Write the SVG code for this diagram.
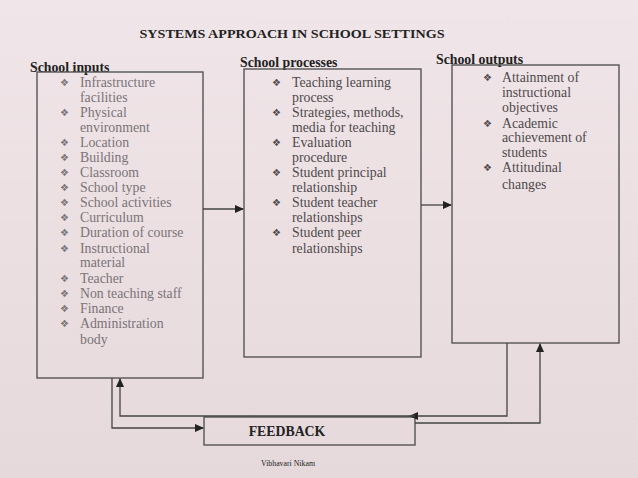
<svg xmlns="http://www.w3.org/2000/svg" width="638" height="478" viewBox="0 0 638 478">
<defs>
<marker id="ah" markerWidth="9" markerHeight="8" refX="8" refY="4" orient="auto" markerUnits="userSpaceOnUse">
<path d="M0,0 L9,4 L0,8 Z" fill="#222"/>
</marker>
<linearGradient id="bg" x1="0" y1="0" x2="0" y2="1">
<stop offset="0" stop-color="#f0e5e8"/>
<stop offset="1" stop-color="#e6d9dc"/>
</linearGradient>
</defs>
<style>
.box{fill:none;stroke:#555;stroke-width:1.4}
.head{font-family:'Liberation Serif','DejaVu Serif',serif;font-weight:bold;font-size:13.8px;fill:#222}
.b{font-family:'DejaVu Sans',sans-serif;font-size:10px}
.conn{fill:none;stroke:#444;stroke-width:1.3}
</style>
<rect width="638" height="478" fill="url(#bg)"/>
<text x="292" y="38" text-anchor="middle" class="head" style="font-size:12.5px" textLength="305" lengthAdjust="spacingAndGlyphs">SYSTEMS APPROACH IN SCHOOL SETTINGS</text>

<g id="inputs">
<text x="30" y="72" class="head">School inputs</text>
<rect x="37" y="72" width="166" height="306" class="box"/>
<g fill="#7a7478" font-family="Liberation Serif, DejaVu Serif, serif" font-size="13.8">
<text x="60" y="86" class="b">❖</text><text x="80" y="87">Infrastructure</text>
<text x="80" y="102">facilities</text>
<text x="60" y="116" class="b">❖</text><text x="80" y="117">Physical</text>
<text x="80" y="132">environment</text>
<text x="60" y="146" class="b">❖</text><text x="80" y="147">Location</text>
<text x="60" y="161" class="b">❖</text><text x="80" y="162">Building</text>
<text x="60" y="176" class="b">❖</text><text x="80" y="177">Classroom</text>
<text x="60" y="191" class="b">❖</text><text x="80" y="192">School type</text>
<text x="60" y="206" class="b">❖</text><text x="80" y="207">School activities</text>
<text x="60" y="221" class="b">❖</text><text x="80" y="222">Curriculum</text>
<text x="60" y="236" class="b">❖</text><text x="80" y="237">Duration of course</text>
<text x="60" y="252" class="b">❖</text><text x="80" y="253">Instructional</text>
<text x="80" y="267">material</text>
<text x="60" y="282" class="b">❖</text><text x="80" y="283">Teacher</text>
<text x="60" y="297" class="b">❖</text><text x="80" y="298">Non teaching staff</text>
<text x="60" y="312" class="b">❖</text><text x="80" y="313">Finance</text>
<text x="60" y="327" class="b">❖</text><text x="80" y="328">Administration</text>
<text x="80" y="344">body</text>
</g>
</g>

<g id="processes">
<text x="240" y="67" class="head">School processes</text>
<rect x="244" y="69" width="177" height="288" class="box"/>
<g fill="#4e4a4c" font-family="Liberation Serif, DejaVu Serif, serif" font-size="13.8">
<text x="272" y="86" class="b">❖</text><text x="292" y="87">Teaching learning</text>
<text x="292" y="102">process</text>
<text x="272" y="116" class="b">❖</text><text x="292" y="117">Strategies, methods,</text>
<text x="292" y="132">media for teaching</text>
<text x="272" y="146" class="b">❖</text><text x="292" y="147">Evaluation</text>
<text x="292" y="162">procedure</text>
<text x="272" y="176" class="b">❖</text><text x="292" y="177">Student principal</text>
<text x="292" y="192">relationship</text>
<text x="272" y="206" class="b">❖</text><text x="292" y="207">Student teacher</text>
<text x="292" y="222">relationships</text>
<text x="272" y="236" class="b">❖</text><text x="292" y="237">Student peer</text>
<text x="292" y="253">relationships</text>
</g>
</g>

<g id="outputs">
<text x="436" y="64" class="head">School outputs</text>
<rect x="452" y="65" width="167" height="278" class="box"/>
<g fill="#4e4a4c" font-family="Liberation Serif, DejaVu Serif, serif" font-size="13.8">
<text x="483" y="81" class="b">❖</text><text x="502" y="82">Attainment of</text>
<text x="502" y="97">instructional</text>
<text x="502" y="112">objectives</text>
<text x="483" y="127" class="b">❖</text><text x="502" y="128">Academic</text>
<text x="502" y="142">achievement of</text>
<text x="502" y="157">students</text>
<text x="483" y="171" class="b">❖</text><text x="502" y="172">Attitudinal</text>
<text x="502" y="189">changes</text>
</g>
</g>

<g id="feedback">
<rect x="204" y="417" width="211" height="28" class="box"/>
<text x="287" y="436" text-anchor="middle" class="head">FEEDBACK</text>
</g>

<g id="connectors">
<line x1="203" y1="209" x2="243" y2="209" class="conn" marker-end="url(#ah)"/>
<line x1="421" y1="205" x2="451" y2="205" class="conn" marker-end="url(#ah)"/>
<polyline points="507,343 507,416 410,416" class="conn" marker-end="url(#ah)"/>
<polyline points="415,416 120,416 120,379" class="conn" marker-end="url(#ah)"/>
<polyline points="112,378 112,428 203,428" class="conn" marker-end="url(#ah)"/>
<polyline points="415,423 540,423 540,344" class="conn" marker-end="url(#ah)"/>
</g>

<text x="288" y="466" text-anchor="middle" font-family="Liberation Serif, DejaVu Serif, serif" font-size="9" fill="#222" textLength="54" lengthAdjust="spacingAndGlyphs">Vibhavari Nikam</text>
</svg>
